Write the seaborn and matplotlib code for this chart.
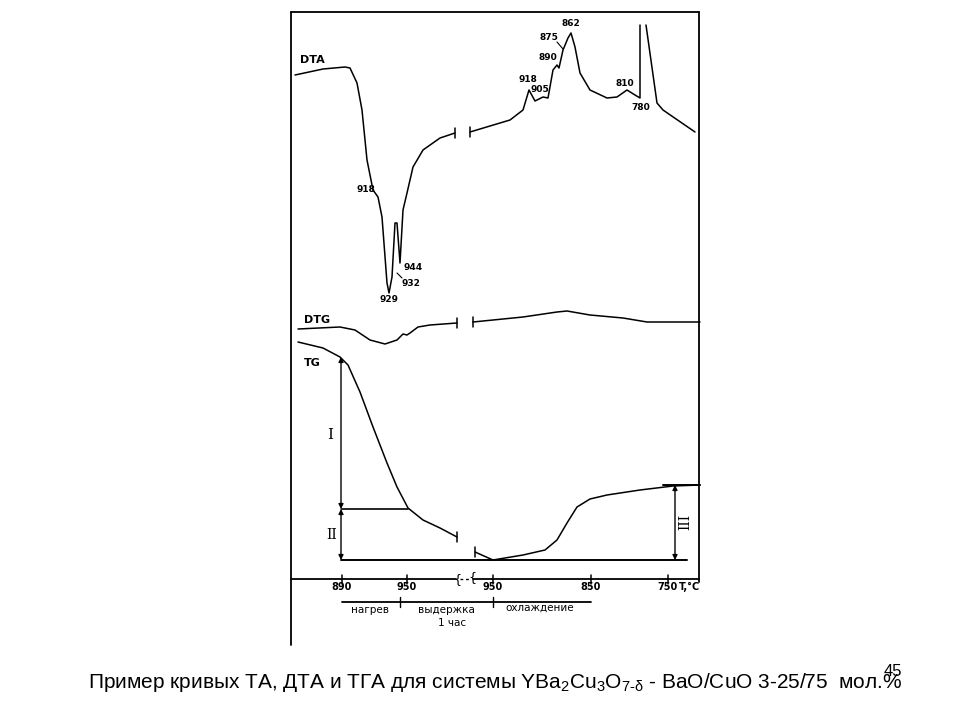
import matplotlib
matplotlib.use('Agg')
import matplotlib.pyplot as plt
import seaborn as sns
import numpy as np
import pandas as pd

# Traced curves of the thermogram (horizontal = chart position, vertical = signal, screen units)
dta_heat_x = [295, 323, 345, 350, 357, 362, 367, 373, 378, 382, 387, 389, 392, 395, 397, 400,
              403, 407, 413, 423, 440, 455]
dta_heat_y = [75, 69, 67, 68, 83, 110, 160, 190, 197, 217, 283, 293, 277, 223, 223, 263,
              210, 193, 167, 150, 138, 133]
dta_cool_x = [470, 490, 510, 523, 529, 535, 543, 548, 553, 557, 559, 563, 568, 571, 575, 580,
              590, 607, 617, 627, 635, 640, 640]
dta_cool_y = [132, 126, 120, 110, 90, 101, 97, 98, 70, 65, 68, 50, 38, 33, 47, 73,
              90, 98, 97, 90, 95, 98, 25]
dta_tail_x = [646, 657, 663, 695]
dta_tail_y = [25, 103, 110, 132]

dtg_heat_x = [298, 340, 355, 370, 385, 397, 403, 407, 410, 418, 430, 457]
dtg_heat_y = [329, 327, 330, 340, 344, 340, 334, 335, 333, 327, 325, 323]
dtg_cool_x = [473, 523, 557, 567, 590, 623, 647, 700]
dtg_cool_y = [322, 317, 312, 311, 315, 318, 322, 322]

tg_heat_x = [298, 323, 340, 348, 360, 373, 387, 397, 408, 423, 440, 457]
tg_heat_y = [342, 348, 357, 365, 392, 427, 463, 487, 508, 520, 528, 537]
tg_cool_x = [475, 493, 523, 545, 557, 567, 577, 590, 607, 640, 673, 700]
tg_cool_y = [552, 560, 555, 550, 540, 523, 507, 499, 495, 490, 486, 485]

# DTA peak temperatures and where they are written
dta_labels = ['918', '929', '932', '944', '918', '905', '890', '875', '862', '810', '780']
dta_label_x = [366, 389, 411, 413, 528, 540, 548, 549, 571, 625, 641]
dta_label_y = [190, 300, 283, 267, 80, 90, 58, 38, 24, 84, 107]

tick_labels = ['890', '950', '950', '850', '750']
tick_x = [342, 407, 493, 591, 668]

sns.set_style('white')
plt.rcParams['font.family'] = ['DejaVu Sans']
plt.rcParams['text.color'] = 'black'

fig = plt.figure(figsize=(9.6, 7.2), dpi=100)
ax = fig.add_axes([0, 0, 1, 1])

lw = 1.1
for xs, ys in [(dta_heat_x, dta_heat_y), (dta_cool_x, dta_cool_y), (dta_tail_x, dta_tail_y),
               (dtg_heat_x, dtg_heat_y), (dtg_cool_x, dtg_cool_y),
               (tg_heat_x, tg_heat_y), (tg_cool_x, tg_cool_y)]:
    df = pd.DataFrame({'x': xs, 'y': ys})
    sns.lineplot(data=df, x='x', y='y', sort=False, estimator=None, color='black',
                 lw=lw, ax=ax)
ax.set_xlim(0, 960)
ax.set_ylim(720, 0)
ax.axis('off')

# break marks at the ends of each segment
for x, y in [(dta_heat_x[-1], dta_heat_y[-1]), (dta_cool_x[0], dta_cool_y[0]),
             (dtg_heat_x[-1], dtg_heat_y[-1]), (dtg_cool_x[0], dtg_cool_y[0]),
             (tg_heat_x[-1], tg_heat_y[-1]), (tg_cool_x[0], tg_cool_y[0])]:
    ax.plot([x, x], [y - 5, y + 5], color='black', lw=lw)

# frame
ax.plot([291, 291], [12, 645], color='black', lw=1.3)
ax.plot([291, 699], [12, 12], color='black', lw=1.3)
ax.plot([699, 699], [12, 582], color='black', lw=1.3)
ax.plot([291, 456], [579, 579], color='black', lw=1.3)
ax.plot([473, 699], [579, 579], color='black', lw=1.3)
ax.plot([460, 470], [579, 579], color='black', lw=1.0, ls=(0, (2, 2)))
ax.text(457, 580, '{', fontsize=9, ha='center', va='center')
ax.text(472, 578, '{', fontsize=9, ha='center', va='center')

for lab, x in zip(tick_labels, tick_x):
    ax.plot([x, x], [575, 584], color='black', lw=1.1)
    ax.text(x, 587, lab, fontsize=7, fontweight='bold', ha='center', va='center')
ax.text(679, 587, 'T,°C', fontsize=7, fontweight='bold', ha='left', va='center')

# stage line below axis
ax.plot([342, 591], [602, 602], color='black', lw=1.3)
ax.plot([400, 400], [597, 607], color='black', lw=1.0)
ax.plot([493, 493], [597, 607], color='black', lw=1.0)
ax.text(370, 610, 'нагрев', fontsize=7.5, ha='center', va='center')
ax.text(446, 610, 'выдержка', fontsize=7.5, ha='center', va='center')
ax.text(452, 623, '1 час', fontsize=7.5, ha='center', va='center')
ax.text(540, 608, 'охлаждение', fontsize=7.5, ha='center', va='center')

# curve names
ax.text(300, 60, 'DTA', fontsize=8, fontweight='bold', ha='left', va='center')
ax.text(304, 320, 'DTG', fontsize=8, fontweight='bold', ha='left', va='center')
ax.text(304, 363, 'TG', fontsize=8, fontweight='bold', ha='left', va='center')

for lab, x, y in zip(dta_labels, dta_label_x, dta_label_y):
    ax.text(x, y, lab, fontsize=6.5, fontweight='bold', ha='center', va='center')
ax.plot([557, 563], [42, 49], color='black', lw=0.8)
ax.plot([397, 402], [273, 278], color='black', lw=0.8)

# mass-loss dimension lines
arr = dict(arrowstyle='<|-|>', color='black', lw=1.0, mutation_scale=7, shrinkA=0, shrinkB=0)
ax.annotate('', xy=(341, 357), xytext=(341, 509), arrowprops=arr)
ax.annotate('', xy=(341, 509), xytext=(341, 560), arrowprops=arr)
ax.annotate('', xy=(675, 485), xytext=(675, 560), arrowprops=arr)
ax.plot([341, 408], [509, 509], color='black', lw=1.2)
ax.plot([341, 687], [560, 560], color='black', lw=1.4)
ax.plot([663, 700], [485, 485], color='black', lw=1.4)
ax.text(330, 435, 'I', fontsize=11, family='DejaVu Serif', ha='center', va='center')
ax.text(332, 535, 'II', fontsize=10, family='DejaVu Serif', ha='center', va='center')
ax.text(685, 522, 'III', fontsize=10, family='DejaVu Serif', rotation=90,
        ha='center', va='center')

# caption
plt.rcParams['mathtext.fontset'] = 'custom'
plt.rcParams['mathtext.rm'] = 'Liberation Sans'
plt.rcParams['mathtext.it'] = 'Liberation Sans'
cap = (r'Пример кривых ТА, ДТА и ТГА для системы YBa$_2$Cu$_3$O$_{7\text{-}\delta}$'
       r' - BaO/CuO 3-25/75  мол.%')
ax.text(88, 682, cap, fontsize=15, family=['Liberation Sans', 'DejaVu Sans'],
        ha='left', va='center')
ax.text(893, 672, '45', fontsize=12, family=['Liberation Sans', 'DejaVu Sans'],
        ha='center', va='center')

fig.savefig('out.png', dpi=100, facecolor='white')
